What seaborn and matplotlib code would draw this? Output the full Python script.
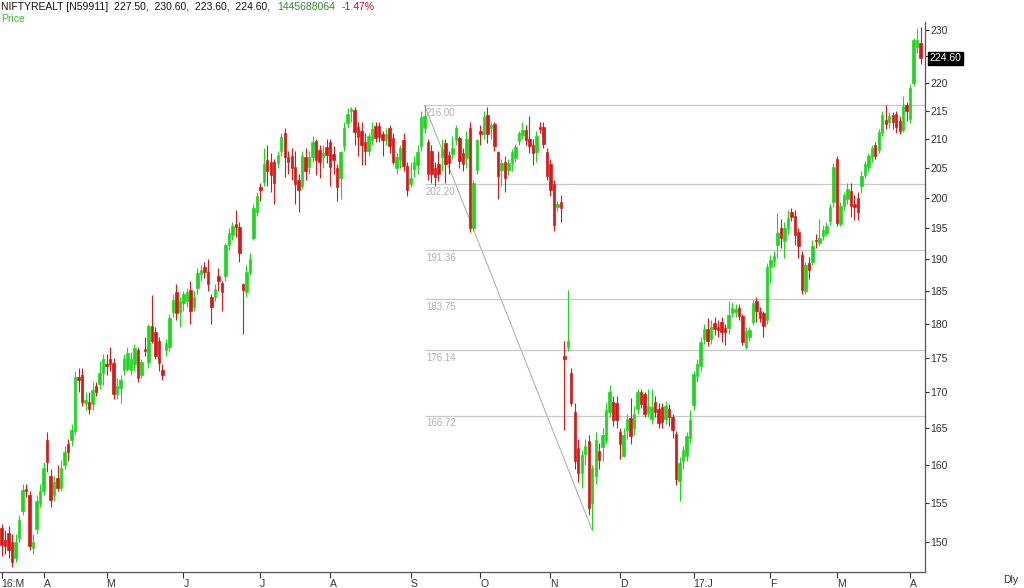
#!/usr/bin/env python3
"""
NIFTYREALT daily candlestick chart with fibonacci retracement lines
"""

import numpy as np
import pandas as pd
import matplotlib
matplotlib.use("Agg")
import matplotlib.pyplot as plt
from matplotlib.ticker import FuncFormatter, NullLocator, NullFormatter
import seaborn as sns

# ---- data ----
opens = [
    151.8, 150.3, 151.2, 150.0, 148.0, 150.5, 154.0, 156.8, 156.0, 149.3,
    151.7, 155.0, 156.6, 163.4, 158.5, 156.0, 158.3, 157.0, 160.0, 162.8,
    163.4, 164.6, 172.2, 172.5, 168.5, 168.6, 168.4, 170.9, 171.2, 172.7,
    174.0, 174.8, 174.2, 169.8, 170.6, 173.2, 173.4,
    173.2, 174.0, 176.1, 172.5, 176.3, 174.3, 179.6, 178.8, 177.4, 173.2, 176.1, 176.5,
    181.8, 184.8,
    181.8, 183.2, 183.4, 185.1, 182.6, 185.4, 187.6, 188.7, 187.9, 184.1,
    184.0, 187.4, 186.2, 187.3, 192.2, 193.8, 195.6, 195.1, 186.0, 184.8,
    188.0, 193.4, 197.6, 201.8, 202.6, 206.3, 206.0, 206.0, 205.9, 207.9,
    211.1, 206.8, 207.0, 205.2, 203.0, 202.0, 206.9, 205.1, 206.8, 209.6,
    208.1, 206.8, 208.6, 209.4, 207.4, 204.9, 203.3, 208.8, 212.8, 215.0,
    215.2, 212.2, 211.5, 209.4, 207.9, 209.9, 212.3, 212.3, 210.8, 209.8,
    212.0, 210.2, 205.0, 206.4, 209.9, 205.3, 202.3, 204.8, 205.5, 208.7,
    212.0, 209.5, 208.0, 205.0, 205.7, 206.8, 209.3, 207.3, 207.4, 209.8,
    210.1, 207.6, 206.7, 212.0, 195.0, 204.7, 211.4, 210.8, 214.3, 212.0,
    212.7, 207.7, 204.7, 206.0, 204.7, 205.9, 206.7, 209.7, 210.7, 211.6,
    210.0, 208.9, 207.7, 212.2, 212.2, 207.8, 205.6, 202.2, 198.5, 199.2,
    175.2, 176.6, 172.8, 167.2, 162.3, 158.9, 161.5, 163.2, 155.0, 158.5,
    161.9, 162.4, 163.4, 167.2, 168.6, 168.5, 164.5, 161.2, 164.7, 166.4,
    165.0, 167.6, 170.0, 169.7, 167.1, 166.2, 168.6, 167.7, 167.9, 166.2,
    167.6, 166.6, 164.2, 157.9, 160.5, 161.2, 163.7, 168.2, 172.3, 173.8,
    177.8, 179.2, 177.7, 180.1, 179.5, 180.2, 179.4, 179.4, 181.7, 181.8,
    182.4, 181.1, 176.5, 178.0, 180.2, 183.5, 181.9, 181.6, 180.5, 188.7,
    189.7, 192.2, 195.0, 192.8, 194.9, 197.6, 197.0, 194.3, 190.7, 185.0,
    189.4, 189.6, 193.1, 192.6, 193.6, 194.1, 196.2, 199.2, 206.5, 195.7,
    198.6, 199.8, 201.1, 199.0, 200.0, 201.9, 203.8, 205.2, 206.9, 209.0,
    208.1, 211.1, 213.4, 213.0, 214.3, 214.4, 213.2, 211.6, 216.0, 213.6,
    220.0, 226.8, 227.5,
]
highs = [
    152.3, 151.5, 152.0, 151.0, 151.0, 153.5, 157.5, 157.5, 156.5, 151.0,
    156.0, 157.5, 160.4, 164.5, 159.5, 158.5, 160.0, 160.6, 162.5, 163.5,
    165.5, 173.0, 173.5, 173.5, 170.0, 170.0, 171.5, 171.5, 174.5, 175.5,
    175.5, 176.5, 175.0, 172.0, 172.5, 175.5, 176.5,
    175.8, 177.0, 176.6, 174.8, 178.0, 180.0, 184.3, 179.5, 178.0, 174.0, 177.8, 181.5,
    184.5, 186.0,
    184.0, 185.0, 185.5, 186.5, 185.0, 188.5, 189.0, 189.5, 190.0, 184.5,
    186.0, 188.5, 186.5, 192.5, 195.0, 196.0, 198.0, 196.0, 186.3, 189.0,
    191.0, 199.0, 201.0, 202.5, 208.5, 209.0, 207.5, 206.5, 208.0, 211.0,
    212.0, 208.0, 208.5, 208.0, 204.0, 208.0, 208.5, 208.0, 210.5, 210.0,
    209.0, 209.0, 210.0, 210.0, 208.8, 205.6, 208.0, 213.0, 215.5, 215.6,
    215.6, 213.0, 213.0, 211.0, 211.0, 213.0, 213.0, 213.0, 211.5, 212.0,
    212.5, 211.0, 207.5, 209.0, 211.0, 206.0, 206.0, 207.0, 209.0, 215.0,
    216.0, 210.0, 209.0, 206.0, 208.0, 210.0, 210.0, 208.0, 210.5, 212.5,
    210.5, 208.5, 211.5, 213.0, 203.0, 210.0, 212.5, 215.0, 215.7, 213.0,
    213.0, 208.0, 206.5, 207.0, 206.5, 208.2, 209.2, 211.5, 213.0, 212.5,
    214.0, 210.0, 211.5, 213.0, 213.0, 208.5, 206.5, 203.0, 199.5, 200.5,
    177.5, 185.2, 173.5, 168.5, 163.5, 162.0, 163.5, 164.0, 160.0, 164.5,
    163.0, 165.0, 168.5, 171.0, 169.5, 169.5, 165.0, 165.0, 167.0, 169.2,
    168.0, 170.5, 170.5, 170.0, 170.5, 170.5, 169.5, 168.5, 168.5, 168.8,
    168.3, 167.0, 164.6, 161.0, 162.5, 164.5, 167.5, 173.0, 174.8, 178.0,
    180.0, 180.8, 180.5, 181.0, 180.5, 181.0, 180.0, 183.5, 183.3, 183.0,
    183.0, 181.5, 179.5, 179.5, 183.8, 184.0, 182.5, 182.0, 189.4, 190.7,
    191.3, 197.5, 196.5, 196.0, 198.0, 198.2, 198.0, 195.0, 191.3, 189.5,
    190.3, 193.0, 194.0, 196.5, 195.4, 196.0, 199.0, 205.8, 207.0, 199.2,
    201.0, 202.5, 202.5, 200.5, 201.0, 204.5, 206.2, 207.5, 209.0, 209.5,
    211.8, 215.0, 216.0, 214.8, 214.8, 215.0, 214.0, 217.7, 216.6, 219.8,
    228.5, 230.4, 230.6,
]
lows = [
    148.3, 148.5, 148.0, 147.0, 147.5, 150.0, 153.5, 155.8, 149.0, 148.5,
    151.0, 154.5, 156.0, 159.0, 154.5, 155.3, 156.5, 156.5, 159.5, 160.5,
    162.5, 164.0, 170.0, 168.0, 167.5, 167.0, 167.5, 169.5, 170.5, 171.0,
    172.5, 173.0, 169.0, 169.0, 168.5, 172.5, 173.0,
    172.5, 173.0, 171.5, 172.0, 175.2, 173.5, 177.2, 174.8, 173.0, 171.8, 175.3, 176.0,
    181.0, 180.5,
    179.5, 182.0, 182.5, 180.0, 182.0, 184.5, 186.5, 187.0, 185.0, 180.0,
    183.5, 185.0, 182.0, 186.5, 191.5, 193.0, 193.5, 189.5, 178.5, 184.0,
    187.5, 193.0, 197.0, 199.5, 202.0, 202.0, 201.0, 199.0, 205.0, 207.0,
    203.5, 204.0, 203.0, 199.0, 197.6, 201.5, 203.0, 204.0, 206.0, 203.8,
    203.3, 205.0, 205.8, 202.0, 204.0, 199.5, 199.7, 208.0, 212.0, 213.0,
    209.0, 207.0, 205.5, 205.5, 207.0, 209.0, 209.5, 209.5, 207.0, 209.0,
    207.5, 205.6, 204.0, 205.0, 204.5, 200.2, 201.8, 203.5, 204.0, 208.0,
    211.0, 203.0, 202.5, 202.0, 202.8, 204.5, 202.5, 204.0, 206.5, 209.0,
    205.0, 204.5, 205.0, 194.4, 194.5, 204.0, 209.0, 210.0, 209.3, 210.0,
    208.0, 199.8, 202.0, 201.0, 203.8, 204.5, 206.0, 209.0, 210.0, 209.0,
    207.5, 205.5, 206.0, 211.0, 208.5, 203.0, 200.3, 194.5, 197.8, 196.0,
    164.7, 176.0, 168.0, 159.5, 157.7, 157.0, 160.0, 153.4, 151.5, 157.5,
    159.4, 160.5, 163.0, 166.5, 165.3, 165.0, 160.8, 161.0, 163.5, 162.8,
    164.0, 167.0, 167.8, 166.5, 166.5, 165.5, 166.5, 165.0, 165.0, 165.5,
    165.3, 163.6, 157.3, 155.3, 159.5, 160.5, 163.0, 167.5, 171.5, 173.0,
    177.0, 176.7, 177.0, 178.3, 178.0, 177.3, 176.8, 178.5, 181.0, 181.0,
    180.5, 176.8, 176.2, 177.5, 179.8, 180.3, 180.3, 178.0, 180.0, 186.3,
    188.8, 190.2, 191.8, 190.1, 194.0, 196.2, 192.3, 190.2, 184.5, 184.5,
    186.9, 189.0, 191.8, 192.0, 193.0, 193.6, 195.5, 198.5, 195.3, 195.3,
    198.0, 199.0, 196.7, 196.3, 196.3, 200.8, 203.3, 204.5, 206.0, 206.6,
    207.5, 210.5, 211.8, 212.0, 211.8, 211.0, 210.8, 211.2, 213.2, 212.8,
    219.5, 225.7, 223.6,
]
closes = [
    149.7, 149.5, 149.0, 147.5, 150.0, 152.8, 156.7, 156.5, 149.5, 150.0,
    155.2, 156.5, 159.6, 160.4, 155.4, 157.8, 157.0, 159.6, 161.8, 161.8,
    164.7, 172.2, 171.7, 168.6, 168.9, 167.6, 170.3, 170.0, 172.7, 174.8,
    173.7, 174.0, 169.8, 170.9, 171.7, 174.8, 175.6,
    174.8, 176.4, 172.1, 174.3, 176.0, 179.6, 177.5, 175.2, 174.2, 172.5, 177.1, 180.9,
    183.6, 181.7,
    183.4, 184.5, 184.8, 182.0, 184.0, 187.8, 188.2, 187.9, 186.0, 182.5,
    185.3, 186.5, 184.8, 192.2, 194.1, 195.3, 195.2, 191.0, 185.2, 187.9,
    190.0, 198.3, 200.3, 201.3, 205.7, 204.4, 203.8, 202.5, 207.2, 210.4,
    206.8, 206.0, 205.0, 202.3, 201.3, 207.0, 204.4, 206.9, 209.4, 206.4,
    206.0, 207.6, 207.3, 205.2, 206.3, 201.8, 207.8, 212.0, 214.4, 215.3,
    211.3, 210.4, 208.9, 208.0, 210.5, 211.8, 210.2, 210.4, 209.9, 210.8,
    208.7, 206.0, 206.8, 208.5, 205.3, 201.3, 203.3, 206.0, 207.7, 213.9,
    214.0, 204.0, 204.0, 203.5, 204.0, 208.2, 205.6, 205.8, 208.5, 211.9,
    206.2, 205.6, 210.0, 195.0, 202.5, 209.8, 210.8, 213.9, 210.8, 212.5,
    208.8, 203.7, 205.9, 203.2, 205.8, 207.7, 208.6, 211.0, 211.6, 209.8,
    208.7, 207.5, 210.6, 211.8, 209.1, 203.7, 201.3, 195.4, 198.9, 198.2,
    174.8, 177.5, 168.5, 160.5, 158.9, 161.4, 162.5, 154.4, 159.6, 163.3,
    160.7, 164.0, 167.5, 170.0, 166.1, 166.1, 162.8, 164.0, 166.3, 163.9,
    167.0, 170.0, 168.3, 167.0, 168.0, 167.9, 167.2, 165.7, 165.9, 168.1,
    166.5, 164.8, 158.1, 160.3, 162.0, 163.9, 166.1, 172.6, 174.0, 177.3,
    179.2, 177.5, 179.5, 179.2, 179.0, 178.8, 178.7, 181.3, 182.4, 182.2,
    181.2, 177.3, 178.9, 179.0, 183.2, 182.0, 180.8, 179.7, 188.7, 189.8,
    190.5, 194.1, 193.4, 195.0, 196.6, 196.8, 193.8, 192.0, 185.1, 189.1,
    188.3, 192.1, 192.8, 193.4, 194.6, 195.3, 198.5, 205.2, 195.8, 198.6,
    200.4, 201.5, 198.6, 198.4, 197.6, 203.7, 205.6, 207.0, 208.4, 207.1,
    211.3, 214.2, 212.7, 214.0, 213.0, 212.2, 211.5, 215.9, 215.0, 219.2,
    228.1, 228.1, 224.6,
]

month_labels = ["16:M", "A", "M", "J", "J", "A", "S", "O", "N", "D", "17:J", "F", "M", "A"]
month_idx = [0, 12, 30, 52, 74, 94, 117, 137, 157, 177, 198, 220, 239, 260]

price_ticks = list(range(150, 231, 5))
fib_levels = [216.00, 202.20, 191.36, 183.75, 176.14, 166.72]

header_main = "NIFTYREALT [N59911]  227.50,  230.60,  223.60,  224.60,"
header_volume = "1445688064"
header_change = "-1.47%"
last_price = 224.60

GREEN = "#1ED81E"
RED = "#D81818"
FONT = ["Liberation Sans", "DejaVu Sans"]


def draw_candles(ax, df):
    """wicks + bodies"""
    up = df["close"] >= df["open"]
    for mask, color in [(up, GREEN), (~up, RED)]:
        sub = df[mask]
        ax.vlines(sub["idx"], sub["low"], sub["high"], color=color, linewidth=0.8, zorder=2)
        body_lo = sub[["open", "close"]].min(axis=1)
        body_h = (sub["close"] - sub["open"]).abs()
        ax.bar(sub["idx"], body_h, bottom=body_lo, width=0.7,
               color=color, edgecolor=color, linewidth=0.5, zorder=3)


def draw_fib(ax, df, x_right):
    """diagonal swing line and retracement levels"""
    hi_idx = int(np.argmax(df["high"].values[:160]))
    lo_idx = hi_idx + int(np.argmin(df["low"].values[hi_idx:]))
    sns.lineplot(x=[hi_idx, lo_idx], y=[df["high"][hi_idx], df["low"][lo_idx]],
                 color="#A8A8A8", linewidth=0.7, ax=ax, legend=False, zorder=1)
    ax.hlines(fib_levels, hi_idx, x_right, color="#C8C8C8", linewidth=0.9, zorder=1)
    for lvl in fib_levels:
        ax.annotate(f"{lvl:.2f}", (hi_idx, lvl), xytext=(1, -2), textcoords="offset points",
                    ha="left", va="top", fontsize=7, color="#B0B0B0")


def price_label(v, _):
    # the last-price tag covers the tick label next to it
    if abs(v - last_price) < 2.5:
        return ""
    return f"{v:.0f}"


def main():
    sns.set_theme(style="white")
    plt.rcParams["font.family"] = FONT

    df = pd.DataFrame({"open": opens, "high": highs, "low": lows, "close": closes})
    df["idx"] = np.arange(len(df))

    fig = plt.figure(figsize=(10.24, 5.88), dpi=100)
    ax = fig.add_axes([0.0, 16 / 588, 925 / 1024, 550 / 588])

    n = len(df)
    step = 919 / (n - 1)
    x_left = -1.7 / step
    x_right = (925 - 1.7) / step

    draw_fib(ax, df, x_right)
    draw_candles(ax, df)

    ax.set_yscale("log")
    ax.set_ylim(146.33, 231.54)
    ax.set_xlim(x_left, x_right)

    # right price axis
    ax.yaxis.tick_right()
    ax.set_yticks(price_ticks)
    ax.yaxis.set_major_formatter(FuncFormatter(price_label))
    ax.yaxis.set_minor_locator(NullLocator())
    ax.yaxis.set_minor_formatter(NullFormatter())
    ax.tick_params(axis="y", direction="out", length=3, width=0.8, pad=1,
                   labelsize=7.5, colors="#333333", right=True, left=False)

    # month axis
    ax.set_xticks(month_idx)
    ax.set_xticklabels(month_labels, ha="left")
    ax.tick_params(axis="x", direction="out", length=4, width=0.8, pad=1,
                   labelsize=7.5, colors="#333333", bottom=True)

    for side in ["left", "top"]:
        ax.spines[side].set_visible(False)
    for side in ["right", "bottom"]:
        ax.spines[side].set_color("#555555")
        ax.spines[side].set_linewidth(0.9)
    ax.grid(False)
    ax.set_xlabel("")
    ax.set_ylabel("")

    # last price tag
    ax.annotate(f"{last_price:.2f}", xy=(1, last_price), xycoords=("axes fraction", "data"),
                xytext=(3, 0), textcoords="offset points", ha="left", va="center",
                fontsize=7.5, color="white", zorder=10, annotation_clip=False,
                bbox=dict(boxstyle="square,pad=0.15", fc="black", ec="black"))

    # header line with coloured parts
    fig.canvas.draw()
    renderer = fig.canvas.get_renderer()
    x = 1 / 1024
    for txt, col in [(header_main, "#111111"), (header_volume, "#2E8B2E"), (header_change, "#D01010")]:
        t = fig.text(x, 1 - 7 / 588, txt, color=col, fontsize=7.5, ha="left", va="center")
        bb = t.get_window_extent(renderer=renderer)
        x = (bb.x1 + 7) / fig.bbox.width
    fig.text(1 / 1024, 1 - 19 / 588, "Price", color="#3CB83C", fontsize=7.5, ha="left", va="center")
    fig.text(1003 / 1024, 1 - 580 / 588, "Dly", color="#333333", fontsize=7.5, ha="left", va="center")

    fig.savefig("out.png", dpi=100)


if __name__ == "__main__":
    main()
